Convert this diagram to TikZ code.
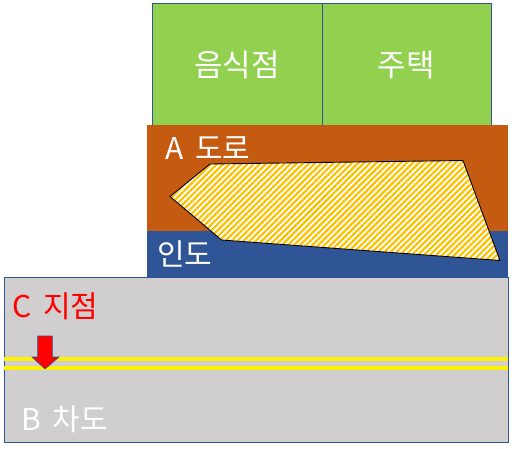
\documentclass[tikz,border=0pt]{standalone}
\usepackage{fontspec}
\setmainfont{Noto Sans CJK KR}
\usetikzlibrary{patterns.meta}
\definecolor{grn}{HTML}{92D050}
\definecolor{org}{HTML}{C55A11}
\definecolor{blu}{HTML}{2F5597}
\definecolor{gry}{HTML}{D0CECE}
\definecolor{edge}{HTML}{2F5597}
\definecolor{hatch}{HTML}{FFC000}
\begin{document}
\begin{tikzpicture}[x=1pt,y=-1pt,
  box/.style={draw=edge, line width=0.8pt, inner sep=0pt, outer sep=0pt, anchor=north west},
  lbl/.style={font=\fontsize{30}{34}\selectfont, inner sep=0pt, anchor=west},
  boxlbl/.style={text=white, font=\fontsize{31}{34}\selectfont}]
\useasboundingbox[fill=white] (0,0) rectangle (515,448);
% buildings
\node[box, fill=grn, minimum width=170, minimum height=123, boxlbl] (shop) at (152,3) {음식점};
\node[box, fill=grn, minimum width=169, minimum height=123, boxlbl] (house) at (322,3) {주택};
% road A and sidewalk
\node[box, draw=none, fill=org, minimum width=361, minimum height=106] (roadA) at (147,125) {};
\node[box, draw=none, fill=blu, minimum width=361, minimum height=46] (walk) at (147,231) {};
% road B
\node[box, fill=gry, minimum width=504, minimum height=165] (roadB) at (4,277) {};
% hatched area
\filldraw[fill=white, draw=none] (210,164) -- (463,160.5) -- (500,260.5) -- (221.5,240) -- (170,196.5) -- cycle;
\filldraw[pattern={Lines[angle=45,distance=4.3pt,line width=2.2pt]}, pattern color=hatch, draw=black, line width=0.9pt, line join=round]
  (210,164) -- (463,160.5) -- (500,260.5) -- (221.5,240) -- (170,196.5) -- cycle;
% centre lines
\draw[yellow, line width=4pt] (roadB.west |- 0,359) -- (roadB.east |- 0,359);
\draw[yellow, line width=4pt] (roadB.west |- 0,368) -- (roadB.east |- 0,368);
% arrow
\filldraw[fill=red, draw=edge, line width=0.6pt, line join=miter]
  (37.7,336) -- (52.3,336) -- (52.3,357) -- (59,357) -- (45,369) -- (32,357) -- (37.7,357) -- cycle;
% labels
\node[lbl, text=white] (lblA) at (165,148) {A\hspace{5pt} 도로};
\node[lbl, text=white] (lblW) at (157,254) {인도};
\node[lbl, text=red] (lblC) at (12,306) {C\hspace{5pt} 지점};
\node[lbl, text=white] (lblB) at (21,419) {B\hspace{5pt} 차도};
\end{tikzpicture}
\end{document}
